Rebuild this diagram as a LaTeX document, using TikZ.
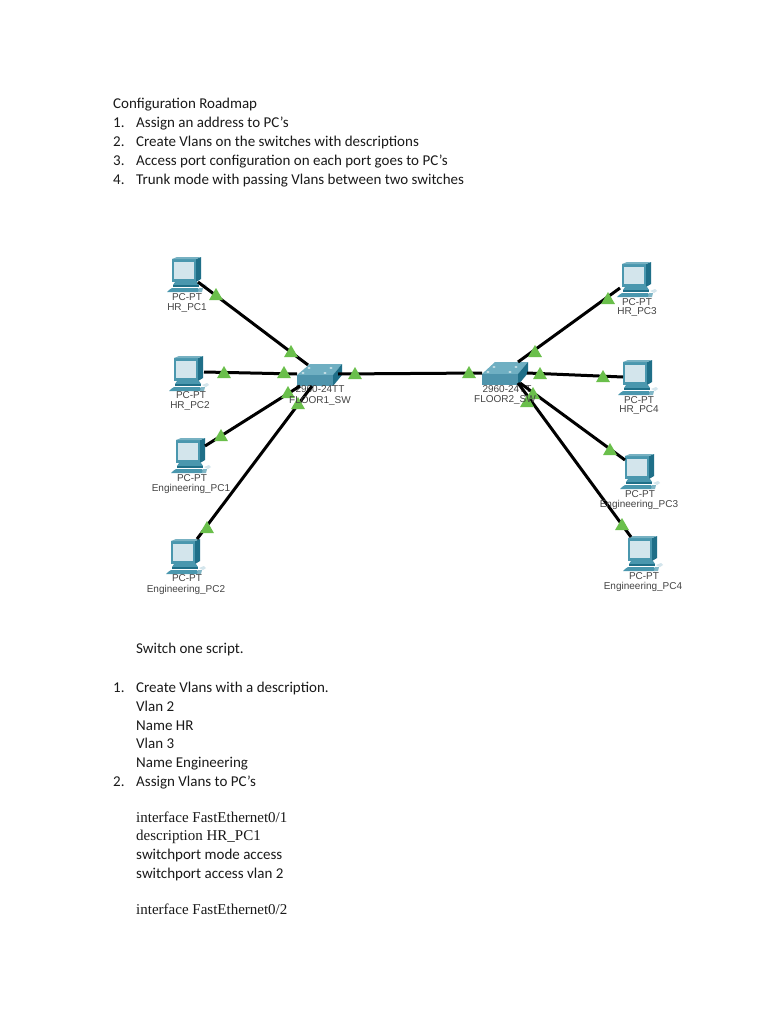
\documentclass[tikz,border=0pt]{standalone}
\usepackage{fontspec}
\setmainfont{Carlito}
\newfontfamily\labelfont{Liberation Sans}
\newfontfamily\timesfont{Liberation Serif}
\usetikzlibrary{shapes.geometric}
\definecolor{pcfront}{HTML}{4A97AE}
\definecolor{pcside}{HTML}{1F6F88}
\definecolor{pcscreen}{HTML}{D3E5EC}
\definecolor{swtop}{HTML}{6FAFC2}
\definecolor{swfront}{HTML}{4E94AC}
\definecolor{swside}{HTML}{1F6F88}
\definecolor{linkgreen}{HTML}{6ABF4B}
\definecolor{labelgrey}{HTML}{444444}
\definecolor{bodytext}{HTML}{1A1A1A}
\tikzset{
  x=1pt,y=-1pt,
  bodyline/.style={anchor=base west,inner sep=0pt,text=bodytext,font=\fontsize{15}{16}\selectfont},
  serifline/.style={anchor=base west,inner sep=0pt,text=bodytext,font=\timesfont\fontsize{15}{17}\selectfont},
  devlabel/.style={inner sep=0pt,text=labelgrey,font=\labelfont\fontsize{10}{12}\selectfont},
  linkline/.style={line width=3pt,black},
  linkmark/.style={regular polygon,regular polygon sides=3,fill=linkgreen,inner sep=0pt,minimum size=16pt},
  pics/pcicon/.style={code={
    \fill[pcfront] (0,2)--(24,2)--(24,25)--(0,25)--cycle;
    \fill[pcside] (24,2)--(29,0)--(29,22)--(24,25)--cycle;
    \fill[pcfront!75!white] (0,2)--(5,0)--(29,0)--(24,2)--cycle;
    \fill[pcscreen] (2,5)--(22,5)--(22,22)--(2,22)--cycle;
    \fill[pcfront] (3,25)--(25,25)--(27,28)--(1,28)--cycle;
    \fill[pcside] (1,28)--(27,28)--(27,30)--(1,30)--cycle;
    \fill[pcfront] (0,31)--(26,31)--(27,33)--(27,35)--(-5,35)--(-3,33)--cycle;
    \fill[pcscreen] (28,29)--(33,27)--(35,29)--(32,31)--cycle;
    \fill[pcfront!70!white] (27,31)--(31,31)--(30,35)--(26,35)--cycle;
  }}
}
\begin{document}
\begin{tikzpicture}
\useasboundingbox (0,0) rectangle (768,1024);
\fill[white] (0,0) rectangle (768,1024);

% document text
\node[bodyline] (t0) at (113,108.5) {Configuration Roadmap};
\node[bodyline] (n1) at (113,127.5) {1.};
\node[bodyline] (t1) at (136,127.5) {Assign an address to PC’s};
\node[bodyline] (n2) at (113,146.5) {2.};
\node[bodyline] (t2) at (136,146.5) {Create Vlans on the switches with descriptions};
\node[bodyline] (n3) at (113,165.5) {3.};
\node[bodyline] (t3) at (136,165.5) {Access port configuration on each port goes to PC’s};
\node[bodyline] (n4) at (113,184.5) {4.};
\node[bodyline] (t4) at (136,184.5) {Trunk mode with passing Vlans between two switches};
\node[bodyline] (s0) at (136,653) {Switch one script.};
\node[bodyline] (m1) at (113,692) {1.};
\node[bodyline] (s1) at (136,692) {Create Vlans with a description.};
\node[bodyline] (s2) at (136,711) {Vlan 2};
\node[bodyline] (s3) at (136,730) {Name HR};
\node[bodyline] (s4) at (136,748) {Vlan 3};
\node[bodyline] (s5) at (136,767) {Name Engineering};
\node[bodyline] (m2) at (113,786) {2.};
\node[bodyline] (s6) at (136,786) {Assign Vlans to PC’s};
\node[serifline] (s7) at (136,822) {interface FastEthernet0/1};
\node[serifline] (s8) at (136,840) {description HR\_PC1};
\node[bodyline] (s9) at (136,859) {switchport mode access};
\node[bodyline] (s10) at (136,878) {switchport access vlan 2};
\node[serifline] (s11) at (136,914) {interface FastEthernet0/2};

% computers
\pic at (172,257) {pcicon};
\pic at (174,356) {pcicon};
\pic at (176,438) {pcicon};
\pic at (171,539) {pcicon};
\pic at (622,262) {pcicon};
\pic at (623,360) {pcicon};
\pic at (625,454) {pcicon};
\pic at (628,536) {pcicon};

% switches
\fill[swtop] (297,375)--(310,364)--(342,364)--(333,375)--cycle;
\fill[swfront] (297,375)--(333,375)--(333,386)--(297,386)--cycle;
\fill[swside] (333,375)--(342,364)--(342,375)--(333,386)--cycle;
\fill[swtop] (482,374)--(495,362)--(528,362)--(518,374)--cycle;
\fill[swfront] (482,374)--(518,374)--(518,385)--(482,385)--cycle;
\fill[swside] (518,374)--(528,362)--(528,373)--(518,385)--cycle;
\foreach \a/\b in {303/373,309/368,325/373,331/368,488/372,494/367,510/372,516/367}
  \fill[white!85!swtop] (\a,\b) ellipse (1.6 and .8);

% connector end points
\coordinate (hr1) at (198,282);
\coordinate (hr2) at (204,372);
\coordinate (en1) at (205,446);
\coordinate (en2) at (197,539);
\coordinate (hr3) at (620,288);
\coordinate (hr4) at (623,377);
\coordinate (en3) at (625,460);
\coordinate (en4) at (631,537);
\coordinate (swAa) at (308,365);
\coordinate (swAb) at (297,374);
\coordinate (swAc) at (300,386);
\coordinate (swAd) at (312,386);
\coordinate (swAe) at (338,374);
\coordinate (swBa) at (518,362);
\coordinate (swBb) at (527,373);
\coordinate (swBc) at (520,383);
\coordinate (swBd) at (518,383);
\coordinate (swBe) at (482,373);

% labels under the links
\node[devlabel] (lsw1a) at (320,389.5) {2960-24TT};
\node[devlabel] (lsw2a) at (507,389.5) {2960-24TT};

% links
\draw[linkline] (hr1)--(swAa);
\draw[linkline] (hr2)--(swAb);
\draw[linkline] (en1)--(swAc);
\draw[linkline] (en2)--(swAd);
\draw[linkline] (swAe)--(swBe);
\draw[linkline] (swBa)--(hr3);
\draw[linkline] (swBb)--(hr4);
\draw[linkline] (swBc)--(en3);
\draw[linkline] (swBd)--(en4);

% link lights
\node[linkmark] (g1) at (216,296) {};
\node[linkmark] (g2) at (291,353) {};
\node[linkmark] (g3) at (224,374) {};
\node[linkmark] (g4) at (284,374) {};
\node[linkmark] (g5) at (355,375) {};
\node[linkmark] (g6) at (288,394) {};
\node[linkmark] (g7) at (298,405) {};
\node[linkmark] (g8) at (221,437) {};
\node[linkmark] (g9) at (207,529) {};
\node[linkmark] (g10) at (469,374) {};
\node[linkmark] (g11) at (540,375) {};
\node[linkmark] (g12) at (603,378) {};
\node[linkmark] (g13) at (535,353) {};
\node[linkmark] (g14) at (608,300) {};
\node[linkmark] (g15) at (533,395) {};
\node[linkmark] (g16) at (527,403) {};
\node[linkmark] (g17) at (610,451) {};
\node[linkmark] (g18) at (622,526) {};

% device labels
\node[devlabel] (lsw1b) at (320,401) {FLOOR1\_SW};
\node[devlabel] (lsw2b) at (505,400) {FLOOR2\_SW};
\node[devlabel] (lp1) at (187,297) {PC-PT};
\node[devlabel] (ln1) at (187,308) {HR\_PC1};
\node[devlabel] (lp2) at (191,395) {PC-PT};
\node[devlabel] (ln2) at (190,406) {HR\_PC2};
\node[devlabel] (lp3) at (192,478) {PC-PT};
\node[devlabel] (ln3) at (191,489) {Engineering\_PC1};
\node[devlabel] (lp4) at (187,578) {PC-PT};
\node[devlabel] (ln4) at (186,590) {Engineering\_PC2};
\node[devlabel] (lp5) at (637,302) {PC-PT};
\node[devlabel] (ln5) at (637,312) {HR\_PC3};
\node[devlabel] (lp6) at (639,400) {PC-PT};
\node[devlabel] (ln6) at (639,410) {HR\_PC4};
\node[devlabel] (lp7) at (640,494) {PC-PT};
\node[devlabel] (ln7) at (639,505) {Engineering\_PC3};
\node[devlabel] (lp8) at (644,576) {PC-PT};
\node[devlabel] (ln8) at (643,587) {Engineering\_PC4};
\end{tikzpicture}
\end{document}
